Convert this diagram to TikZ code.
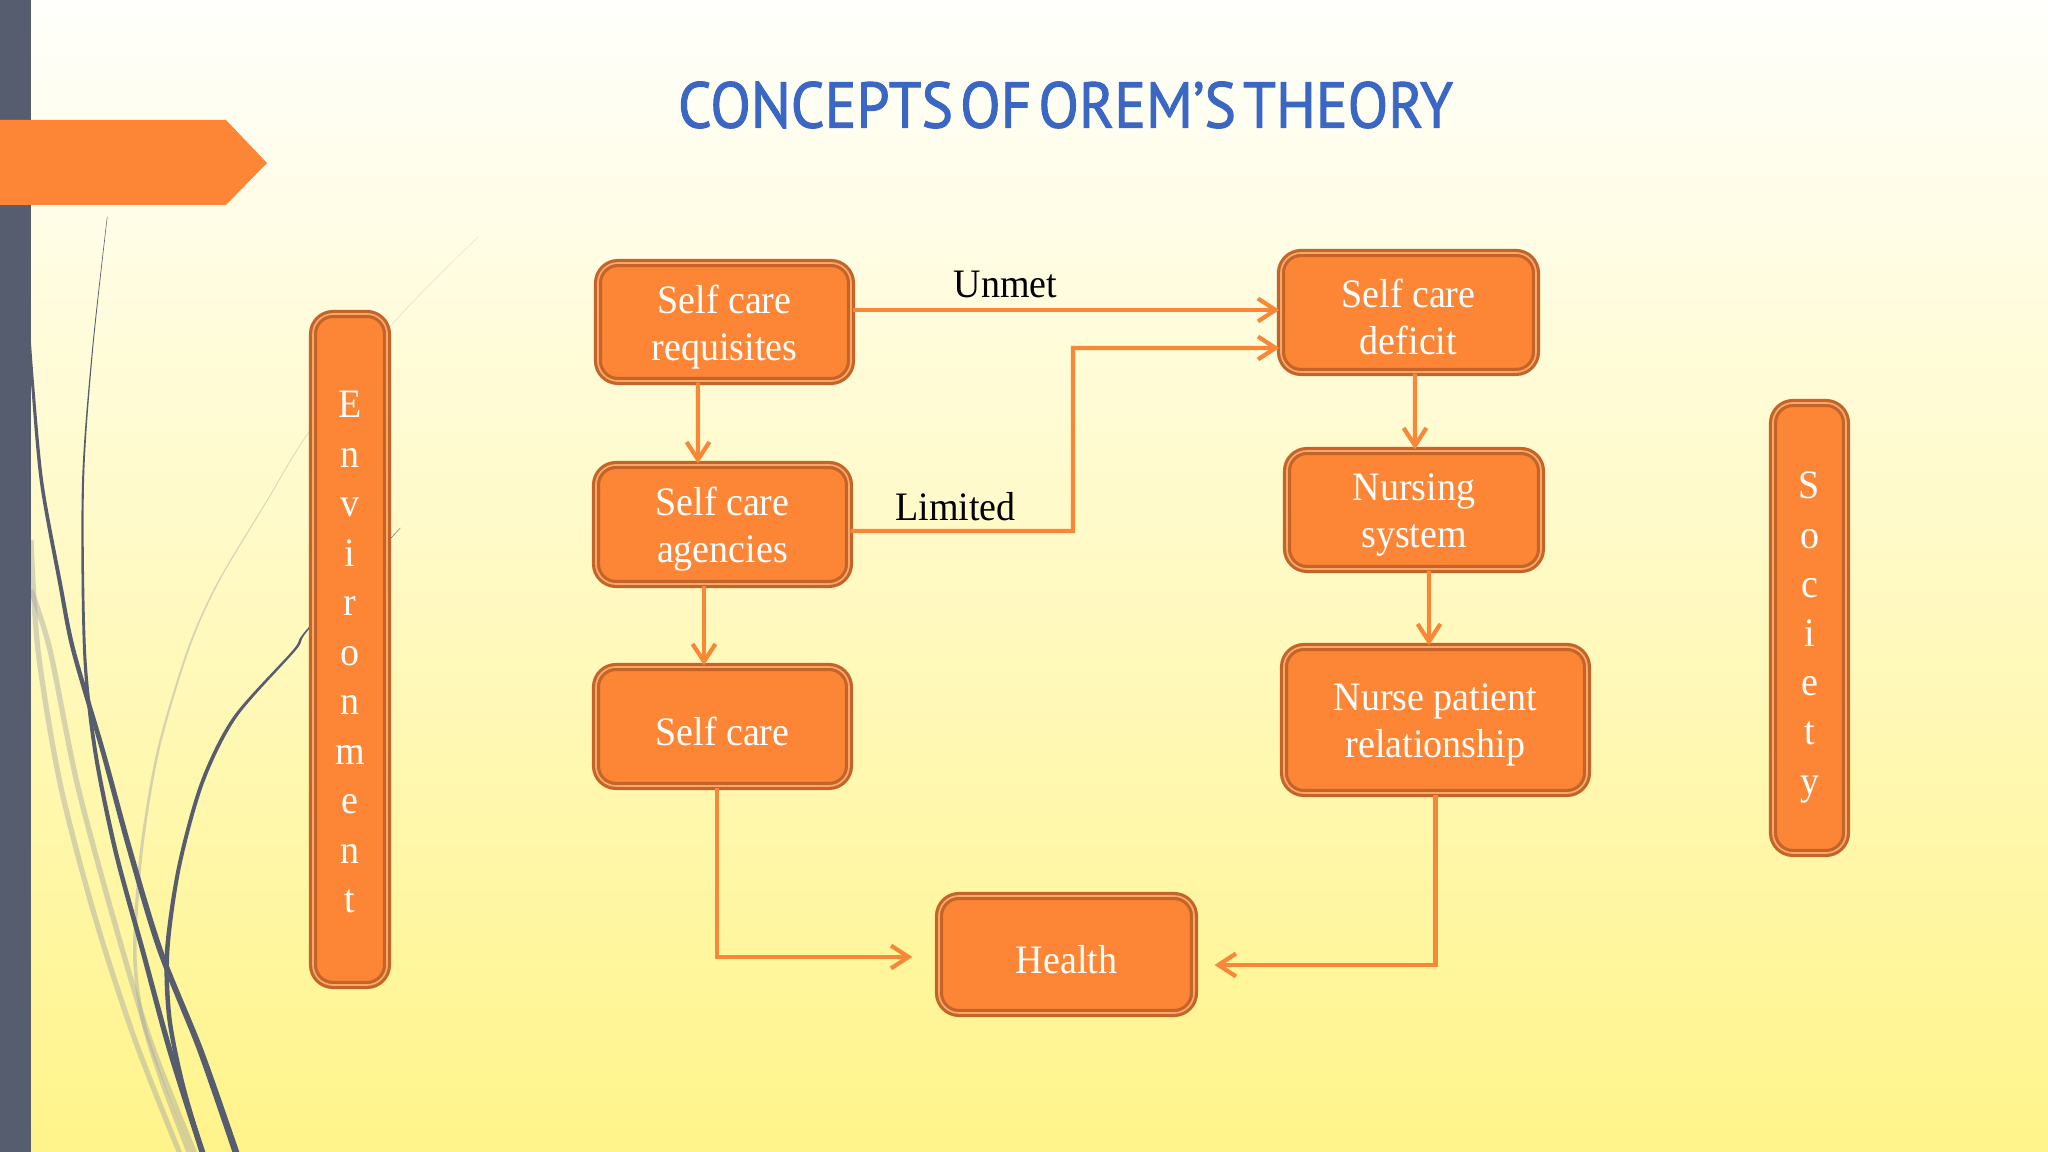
\documentclass[tikz,border=0pt]{standalone}
\usepackage{fontspec}
\usepackage{graphicx}
\setmainfont{Liberation Serif}[FakeStretch=0.94]
\newfontfamily\titlefont{PT Sans}[FakeBold=1.6]
\usetikzlibrary{arrows.meta, positioning}
\definecolor{boxfill}{RGB}{252,134,53}
\definecolor{boxedge}{RGB}{196,100,40}
\definecolor{boxline}{RGB}{250,168,105}
\definecolor{arrcol}{RGB}{247,136,56}
\definecolor{barcol}{RGB}{86,93,110}
\definecolor{titleblue}{RGB}{58,102,196}
\definecolor{bgtop}{RGB}{255,255,252}
\definecolor{bgmid}{RGB}{255,250,205}
\definecolor{bgbot}{RGB}{255,244,138}
\newcommand\lo[1]{\raisebox{-1.4pt}[\height][\depth]{#1}}

\begin{document}
\begin{tikzpicture}[
  box/.style={rectangle, rounded corners=0.2cm, fill=boxfill, draw=boxedge, line width=0.9pt,
    double=boxline, double distance=0.5pt, text=white, align=center, inner sep=0pt,
    font=\fontsize{11.5}{13.4}\selectfont},
  lettr/.style={text=white, inner sep=0pt, anchor=base, font=\fontsize{11.5}{13.4}\selectfont},
  lbl/.style={text=black, inner sep=0pt, font=\fontsize{11.5}{13.4}\selectfont},
  arr/.style={draw=arrcol, line width=1.2pt, -{Straight Barb[length=5pt,width=6.5pt]}},
  swirl/.style={fill=barcol},
  pale/.style={fill=black!35, opacity=0.45}
]
\useasboundingbox (0,0) rectangle (20.48,11.52);
\shade [top color=bgtop, middle color=bgmid, bottom color=bgbot] (0,0) rectangle (20.48,11.52);

\fill [pale] plot[smooth] coordinates {(4.78,9.15) (3.93,8.29) (3.08,7.19) (2.67,6.52) (2.17,5.69) (1.87,5.02) (1.57,4.02) (1.40,3.02) (1.33,2.02) (1.40,1.35) (1.60,0.69) (1.87,-0.02)}
  -- plot[smooth] coordinates {(1.92,-0.02) (1.645,0.69) (1.44,1.35) (1.365,2.02) (1.43,3.02) (1.595,4.02) (1.89,5.02) (2.185,5.69) (2.68,6.52) (3.088,7.19) (3.936,8.29) (4.783,9.15)} -- cycle;
\draw [black!35, opacity=0.45, line width=1.5pt] plot[smooth] coordinates {(0.31,6.12) (0.38,5.02) (0.60,3.69) (0.95,2.35) (1.35,1.12) (1.80,-0.02)};
\draw [black!35, opacity=0.45, line width=1.5pt] plot[smooth] coordinates {(0.31,5.62) (0.50,5.02) (0.77,3.69) (1.13,2.35) (1.50,1.12) (1.95,-0.02)};
\fill [swirl] plot[smooth] coordinates {(1.07,9.35) (0.92,8.02) (0.82,6.69) (0.83,5.02) (0.93,4.02) (1.13,3.02) (1.40,2.02) (1.67,1.02) (2.00,-0.02)}
  -- plot[smooth] coordinates {(2.06,-0.02) (1.725,1.02) (1.45,2.02) (1.175,3.02) (0.97,4.02) (0.86,5.02) (0.84,6.69) (0.93,8.02) (1.075,9.35)} -- cycle;
\fill [swirl] plot[smooth] coordinates {(0.25,8.52) (0.31,7.69) (0.40,6.69) (0.58,5.69) (0.71,5.02) (1.00,4.02) (1.27,3.02) (1.57,2.02) (1.97,1.02) (2.33,-0.02)}
  -- plot[smooth] coordinates {(2.40,-0.02) (2.035,1.02) (1.63,2.02) (1.325,3.02) (1.05,4.02) (0.755,5.02) (0.62,5.69) (0.435,6.69) (0.34,7.69) (0.28,8.52)} -- cycle;
\fill [swirl] plot[smooth] coordinates {(4.00,6.24) (3.08,5.24) (2.93,5.02) (2.33,4.35) (2.00,3.69) (1.77,2.85) (1.65,2.02) (1.67,1.35) (1.80,0.69) (2.00,-0.02)}
  -- plot[smooth] coordinates {(2.05,-0.02) (1.845,0.69) (1.715,1.35) (1.695,2.02) (1.81,2.85) (2.04,3.69) (2.37,4.35) (2.96,5.02) (3.10,5.24) (4.005,6.24)} -- cycle;

\fill [barcol] (0,0) rectangle (0.31,11.52);
\fill [boxfill] (0,10.32) -- (2.26,10.32) -- (2.67,9.89) -- (2.26,9.47) -- (0,9.47) -- cycle;

\node [font=\titlefont, text=titleblue, inner sep=0pt] (title) at (10.655,10.47)
  {\resizebox{7.75cm}{0.46cm}{CONCEPTS\hspace{0.12em}OF\hspace{0.12em}OREM’S\hspace{0.12em}THEORY}};

\node [box, minimum width=0.74cm, minimum height=6.71cm] (env) at (3.50,5.025) {};
\foreach \ch [count=\i from 0] in {E,n,v,i,r,o,n,m,e,n,t}
  \node [lettr] (envl\i) at (3.50,7.34-0.495*\i) {\ch};
\node [box, minimum width=0.73cm, minimum height=4.50cm] (soc) at (18.095,5.24) {};
\foreach \ch [count=\i from 0] in {S,o,c,i,e,t,y}
  \node [lettr] (socl\i) at (18.095,6.53-0.492*\i) {\ch};

\node [box, minimum width=2.53cm, minimum height=1.18cm] (req) at (7.245,8.30) {\lo{Self care}\\\lo{requisites}};
\node [box, minimum width=2.53cm, minimum height=1.19cm] (agen) at (7.225,6.275) {\lo{Self care}\\\lo{agencies}};
\node [box, minimum width=2.53cm, minimum height=1.19cm] (self) at (7.225,4.255) {\lo{Self care}};
\node [box, minimum width=2.55cm, minimum height=1.19cm] (deficit) at (14.085,8.395) {\lo{Self care}\\\lo{deficit}};
\node [box, minimum width=2.54cm, minimum height=1.18cm] (nursing) at (14.14,6.42) {\lo{Nursing}\\\lo{system}};
\node [box, minimum width=3.03cm, minimum height=1.46cm] (npr) at (14.355,4.32) {\lo{Nurse patient}\\\lo{relationship}};
\node [box, minimum width=2.55cm, minimum height=1.17cm] (health) at (10.665,1.975) {\lo{Health}};

\node [lbl] (unmet) at (10.055,8.68) {Unmet};
\node [lbl] (limited) at (9.555,6.455) {Limited};
\coordinate (bend) at (10.73,8.04);

\draw [arr] ([yshift=0.12cm]req.east) -- ([yshift=0.025cm]deficit.west);
\draw [arr] ([yshift=-0.065cm]agen.east) -| (bend) -- ([yshift=-0.355cm]deficit.west);
\draw [arr] ([xshift=-0.265cm]req.south) -- ([xshift=-0.245cm]agen.north);
\draw [arr] ([xshift=-0.185cm]agen.south) -- ([xshift=-0.185cm]self.north);
\draw [arr] ([xshift=0.065cm]deficit.south) -- ([xshift=0.01cm]nursing.north);
\draw [arr] ([xshift=0.15cm]nursing.south) -- ([xshift=-0.065cm]npr.north);
\draw [arr] ([xshift=-0.055cm]self.south) |- ([xshift=-0.25cm,yshift=-0.025cm]health.west);
\draw [arr] (npr.south) |- ([xshift=0.19cm,yshift=-0.105cm]health.east);
\end{tikzpicture}
\end{document}
